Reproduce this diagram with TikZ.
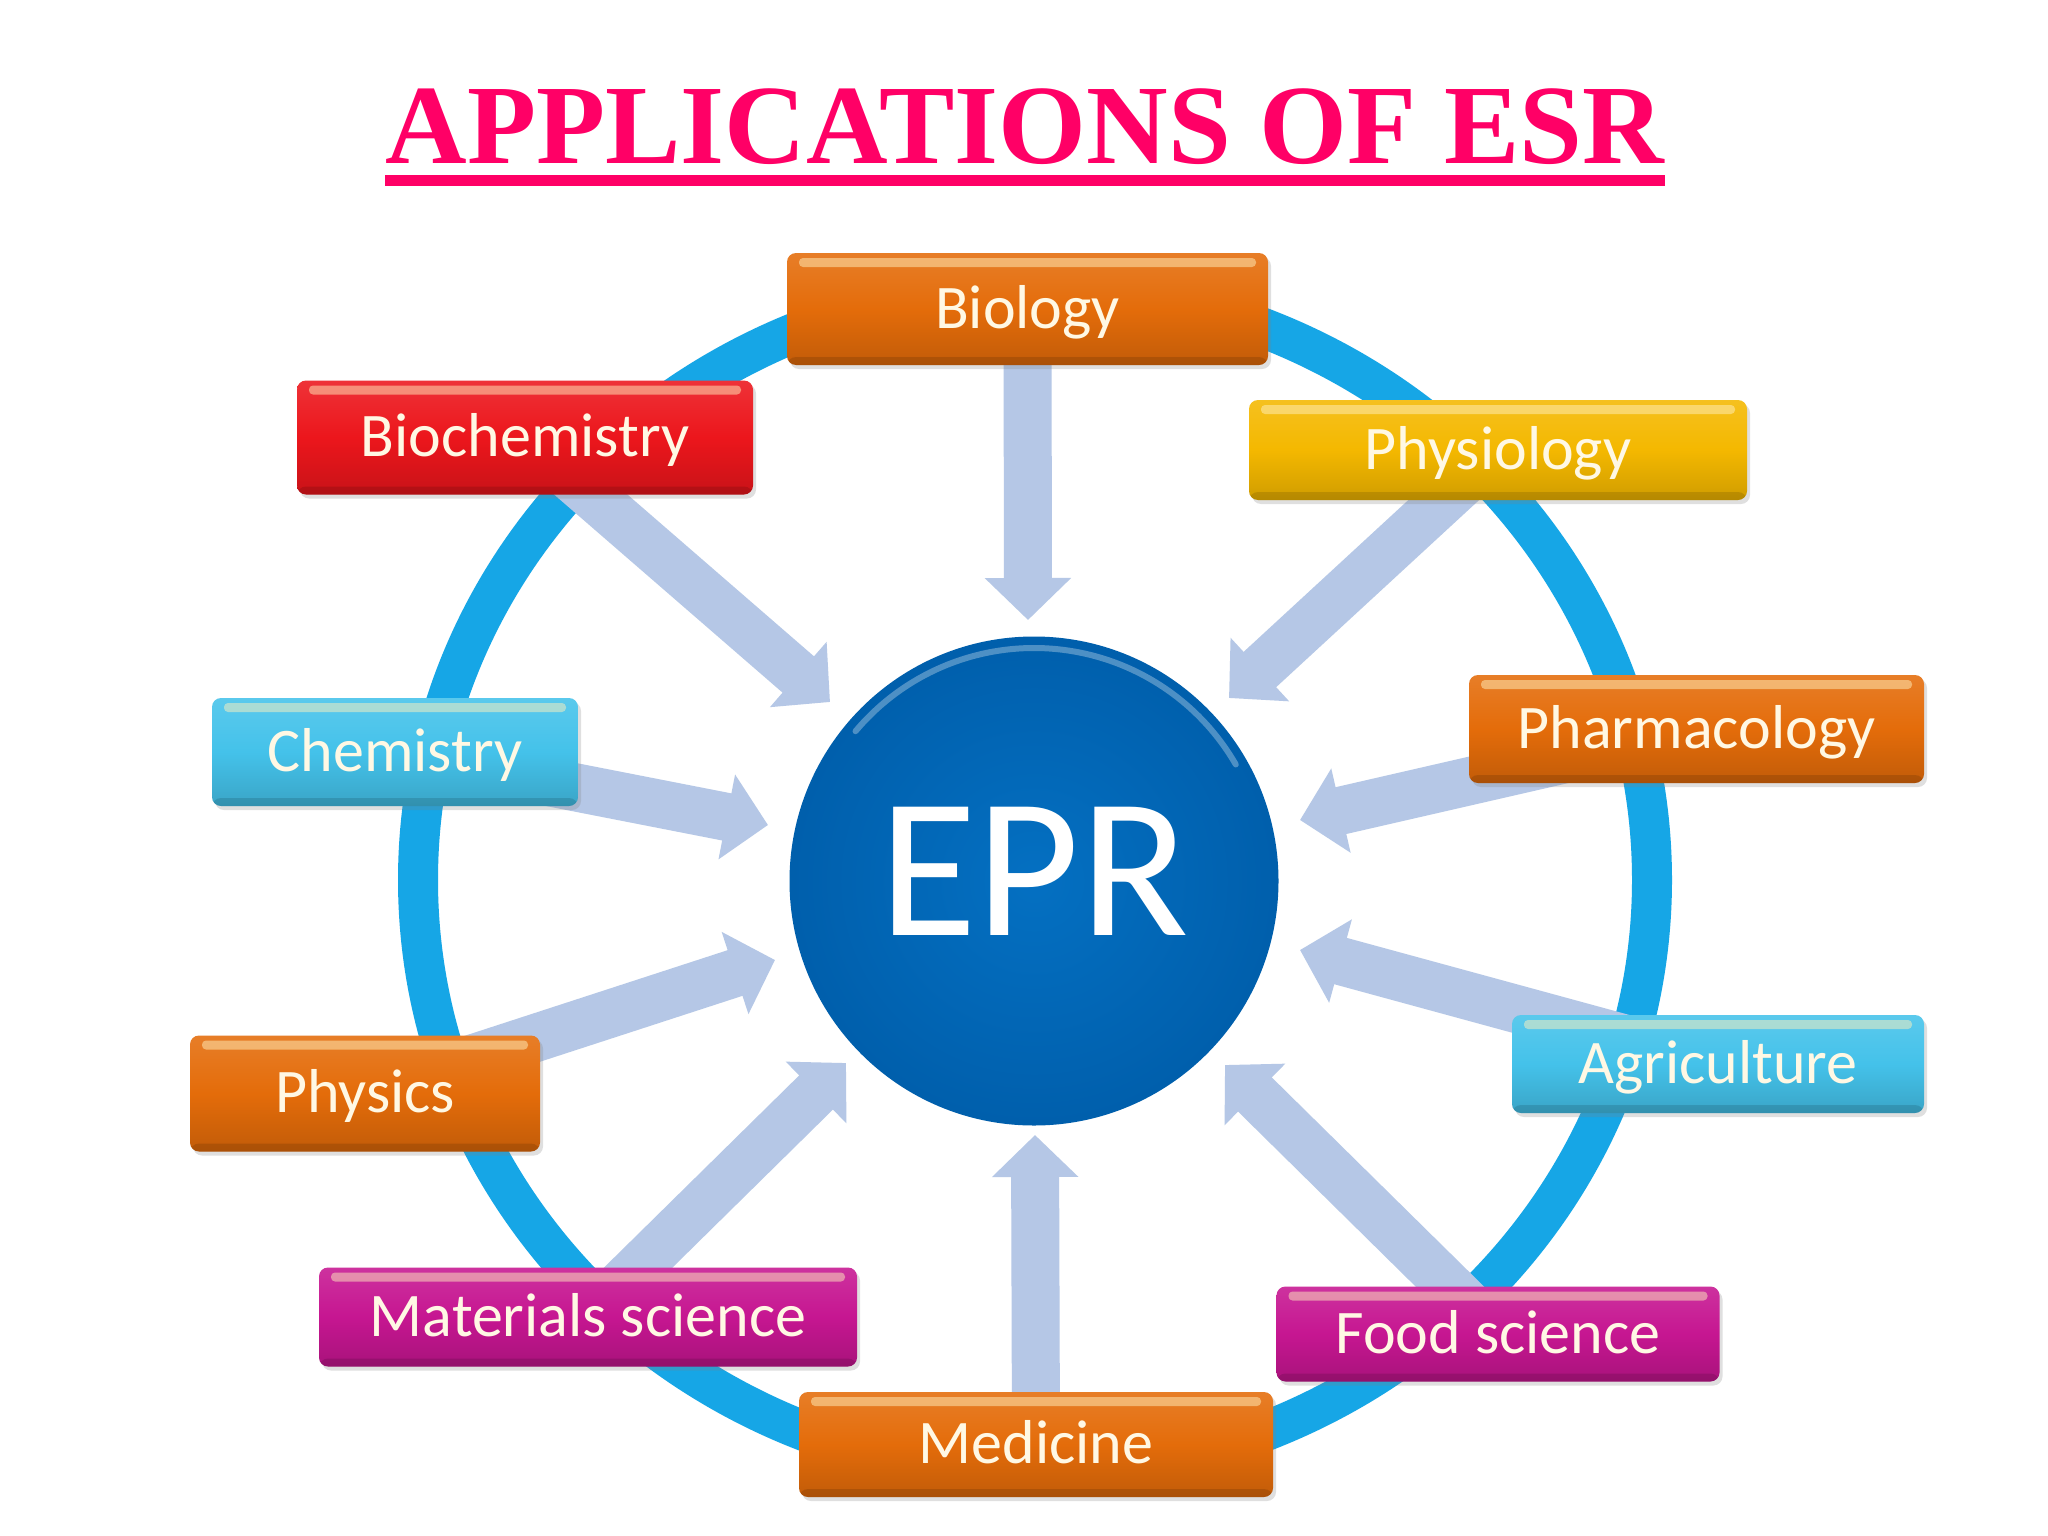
\documentclass[tikz,border=0pt]{standalone}
\usepackage{fontspec}
\setmainfont{Liberation Serif}
\newfontfamily\calib{Carlito}
\usetikzlibrary{arrows.meta,shadows}
\definecolor{titlepink}{RGB}{255,0,102}
\definecolor{ringblue}{RGB}{22,166,230}
\definecolor{arrowblue}{RGB}{181,199,230}
\definecolor{eprblue}{RGB}{4,112,194}
\definecolor{eprdark}{RGB}{0,95,172}
\definecolor{orangeC}{RGB}{228,108,10}
\definecolor{redC}{RGB}{236,22,28}
\definecolor{yellowC}{RGB}{244,184,0}
\definecolor{cyanC}{RGB}{68,194,234}
\definecolor{magentaC}{RGB}{198,22,145}
\definecolor{labeltext}{RGB}{255,248,228}
\definecolor{shine}{RGB}{255,240,190}
\pgfdeclarelayer{bglayer}
\pgfdeclarelayer{ringlayer}
\pgfdeclarelayer{arrowlayer}
\pgfsetlayers{bglayer,ringlayer,arrowlayer,main}
\tikzset{
  appbox/.style={rounded corners=9pt, inner sep=0pt, text height=38pt, text depth=0pt,
    font=\calib\fontsize{62}{70}\selectfont, text=labeltext,
    top color=#1!88!white, bottom color=#1!85!black, middle color=#1,
    drop shadow={opacity=0.25, shadow xshift=3pt, shadow yshift=-4pt},
    path picture={
      \fill[shine, opacity=0.5, rounded corners=4pt]
        ([xshift=12pt,yshift=-5pt]path picture bounding box.north west) rectangle
        ([xshift=-12pt,yshift=-14pt]path picture bounding box.north east);
      \fill[black, opacity=0.12]
        ([yshift=8pt]path picture bounding box.south west) rectangle
        (path picture bounding box.south east);
    }},
  bigarrow/.style={draw=arrowblue, line width=48pt,
    -{Triangle[length=42pt, width=84pt, fill=arrowblue]}}
}
\begin{document}
\begin{tikzpicture}[x=1pt, y=-1pt]
\useasboundingbox (0,0) rectangle (2048,1536);
\begin{pgfonlayer}{bglayer}
\fill[white] (0,0) rectangle (2048,1536);
\end{pgfonlayer}

% title
\node[anchor=base, inner sep=0pt, font=\bfseries\fontsize{113}{120}\selectfont, text=titlepink]
  (title) at (1025,164) {APPLICATIONS OF ESR};
\fill[titlepink] ([yshift=-11pt]title.base west) rectangle ([yshift=-22pt]title.base east);

% boxes
\node[appbox=orangeC, minimum width=481pt, minimum height=112pt] (bio) at (1027.5,309) {Biology};
\node[appbox=redC, minimum width=456pt, minimum height=114pt] (biochem) at (525,437.5) {Biochemistry};
\node[appbox=yellowC, minimum width=498pt, minimum height=100pt] (physio) at (1498,450) {Physiology};
\node[appbox=cyanC, minimum width=366pt, minimum height=108pt] (chem) at (395,752) {Chemistry};
\node[appbox=orangeC, minimum width=455pt, minimum height=108pt] (pharma) at (1696.5,729) {Pharmacology};
\node[appbox=orangeC, minimum width=350pt, minimum height=116pt] (phys) at (365,1093.5) {Physics};
\node[appbox=cyanC, minimum width=412pt, minimum height=98pt] (agri) at (1718,1064) {Agriculture};
\node[appbox=magentaC, minimum width=538pt, minimum height=99pt] (mat) at (588,1317) {Materials science};
\node[appbox=magentaC, minimum width=443pt, minimum height=95pt] (food) at (1498,1334) {Food science};
\node[appbox=orangeC, minimum width=474pt, minimum height=105pt] (med) at (1036,1444.5) {Medicine};

% central circle
\node[circle, minimum size=486pt, inner sep=0pt, draw=eprdark, line width=3pt,
  inner color=eprblue, outer color=eprdark,
  font=\calib\fontsize{200}{200}\selectfont, text=white, text height=126pt, text depth=18pt]
  (epr) at (1034,881) {EPR};
\draw[white, opacity=0.3, line width=6pt, line cap=round]
  (epr.center) ++(140:233pt) arc[start angle=140, end angle=30, radius=233pt];

% tips
\coordinate (bio-tip) at (1028,620);
\coordinate (med-tip) at (1035,1135);
\coordinate (biochem-tip) at (830,702);
\coordinate (physio-tip) at (1229,698);
\coordinate (chem-tip) at (768,825);
\coordinate (pharma-tip) at (1300,820);
\coordinate (phys-tip) at (775,960);
\coordinate (agri-tip) at (1300,950);
\coordinate (mat-tip) at (846,1063);
\coordinate (food-tip) at (1225,1065);

\begin{pgfonlayer}{ringlayer}
\draw[ringblue, line width=40pt] (1035,880) ellipse [x radius=617pt, y radius=594pt];
\end{pgfonlayer}
\begin{pgfonlayer}{arrowlayer}
\foreach \b in {bio,med,biochem,physio,chem,pharma,phys,agri,mat,food}
  \draw[bigarrow] (\b.center) -- (\b-tip);
\end{pgfonlayer}
\end{tikzpicture}
\end{document}
